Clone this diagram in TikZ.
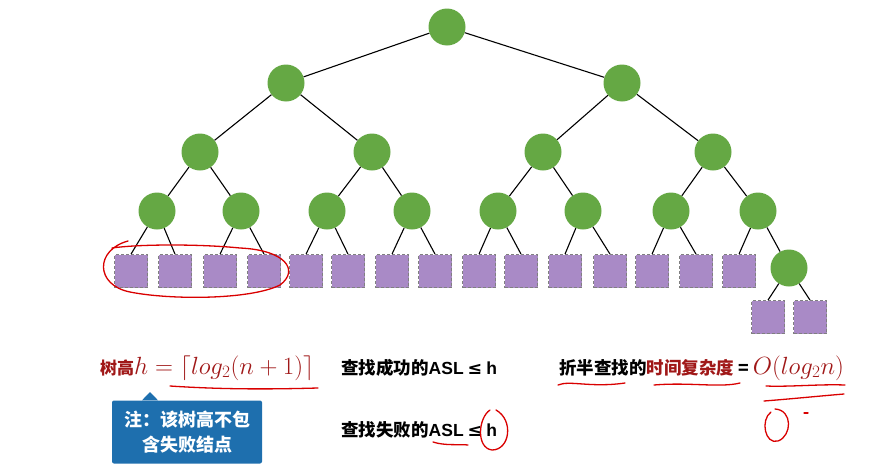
\documentclass[tikz,border=0pt]{standalone}
\usepackage{fontspec}
\usepackage{amsmath}
\newfontfamily\cjk{Noto Sans CJK SC}
\newfontfamily\dv{DejaVu Sans}
\newfontfamily\lsans{Liberation Sans}
\begin{document}
\begin{tikzpicture}[x=1pt,y=-1pt,
 inode/.style={circle,minimum size=37pt,inner sep=0pt},
 leaf/.style={draw=gray,densely dashed,line width=0.8pt,minimum size=33pt,inner sep=0pt},
 edge/.style={line width=1.1pt},
 red hand/.style={draw=red!85!black,line width=1.3pt,line cap=round}]
\definecolor{gr}{HTML}{65A844}\definecolor{pu}{HTML}{A98AC6}\definecolor{dred}{HTML}{A01818}\definecolor{bl}{HTML}{1E6FAE}
\tikzset{inode/.append style={fill=gr},leaf/.append style={fill=pu}}
\useasboundingbox (0,0) rectangle (870,466);
\node[inode] (r) at (447,27) {};
\node[inode] (a) at (286,83) {}; \node[inode] (b) at (622,83) {};
\node[inode] (a1) at (200,152) {}; \node[inode] (a2) at (372,152) {};
\node[inode] (b1) at (543,152) {}; \node[inode] (b2) at (713,152) {};
\foreach \n/\x in {c1/157,c2/241,c3/327,c4/412,c5/498,c6/583,c7/671,c8/758}
  \node[inode] (\n) at (\x,211) {};
\node[inode] (e) at (789,268) {};
\foreach \p/\c in {r/a,r/b,a/a1,a/a2,b/b1,b/b2,a1/c1,a1/c2,a2/c3,a2/c4,b1/c5,b1/c6,b2/c7,b2/c8,c8/e}
  \draw[edge] (\p) -- (\c);
\foreach \i/\x/\p in {1/131/c1,2/175/c1,3/220/c2,4/264/c2,5/306/c3,6/348/c3,7/392/c4,8/435/c4,9/479/c5,10/521/c5,11/565/c6,12/610/c6,13/652/c7,14/696/c7,15/739/c8}{
  \node[leaf] (l\i) at (\x,271) {};
  \draw[edge] (\p) -- (l\i.north);}
\node[leaf] (m1) at (768,317) {}; \node[leaf] (m2) at (810,317) {};
\draw[edge] (e) -- (m1.north); \draw[edge] (e) -- (m2.north);
% texts
\node[anchor=west,text=dred,font=\cjk\fontsize{17}{20}\selectfont\bfseries,inner sep=0pt] (t1) at (100,368) {树高{\fontsize{24}{27}\selectfont$h=\lceil log_2(n+1)\rceil$}};
\node[anchor=west,font=\cjk\fontsize{17.5}{20}\selectfont\bfseries,inner sep=0pt] (t2) at (341,368) {查找成功的{\lsans ASL} {\dv ≤} {\lsans h}};
\node[anchor=west,font=\cjk\fontsize{17.5}{20}\selectfont\bfseries,inner sep=0pt] (t3) at (341,430) {查找失败的{\lsans ASL} {\dv ≤} {\lsans h}};
\node[anchor=west,font=\cjk\fontsize{17.5}{20}\selectfont\bfseries,inner sep=0pt] (t4) at (559,368) {折半查找的\textcolor{dred}{时间复杂度} = \textcolor{dred}{\fontsize{23}{26}\selectfont$O(log_2n)$}};
% callout
\node[fill=bl,text=white,rounded corners=2pt,font=\cjk\fontsize{18}{25}\selectfont\bfseries,align=center,minimum width=150pt,minimum height=63pt] (cb) at (187,432) {注：该树高不包\\含失败结点};
\coordinate (tip) at (150,392);
\fill[bl] ([xshift=-8pt]cb.north -| tip) -- (tip) -- ([xshift=8pt]cb.north -| tip) -- cycle;
% red hand annotations
\draw[red hand] (128,241) .. controls (95,250) and (95,285) .. (130,292) .. controls (170,300) and (250,300) .. (280,285) .. controls (300,270) and (285,250) .. (240,248) .. controls (200,244) and (140,244) .. (112,248);
\draw[red hand] (170,386) .. controls (230,390) and (280,389) .. (318,388);
\draw[red hand] (558,385) .. controls (570,380) and (590,388) .. (625,383);
\draw[red hand] (654,385) .. controls (690,382) and (720,388) .. (740,383);
\draw[red hand] (766,386) .. controls (790,387) and (820,384) .. (845,385);
\draw[red hand] (764,401) .. controls (790,399) and (820,396) .. (844,394);
\draw[red hand] (771,412) .. controls (760,420) and (765,445) .. (778,441) .. controls (792,436) and (793,410) .. (775,409);
\draw[red hand] (804,413) -- (808,413);
\draw[red hand] (433,442) .. controls (445,446) and (460,444) .. (468,445);
\draw[red hand] (490,410) .. controls (478,418) and (476,448) .. (492,450) .. controls (510,450) and (514,420) .. (496,410);
\end{tikzpicture}
\end{document}
